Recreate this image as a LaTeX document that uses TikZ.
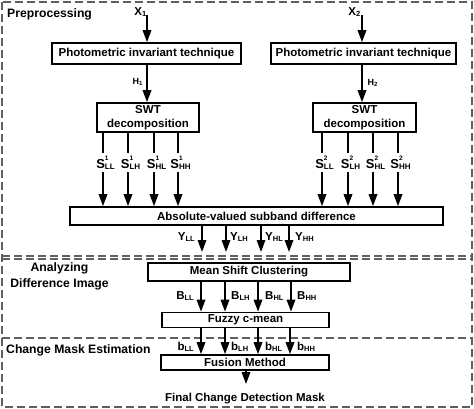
\documentclass[tikz,border=0pt]{standalone}
\usepackage{fontspec}
\setmainfont{Liberation Sans}
\usetikzlibrary{arrows.meta}
\definecolor{dashgray}{RGB}{95,95,95}
\newcommand{\ssub}[2]{#1\raisebox{-1.5pt}{\fontsize{7.5}{8}\selectfont #2}}
\newcommand{\ssupsub}[3]{#1\rlap{\raisebox{8pt}{\fontsize{6.5}{7}\selectfont #2}}\raisebox{-1pt}{\fontsize{8}{9}\selectfont #3}}
\begin{document}
\begin{tikzpicture}[x=1pt,y=-1pt,
  box/.style={draw, line width=1.7pt, inner sep=0pt, align=center,
    font=\bfseries\fontsize{11.5}{14.5}\selectfont},
  arr/.style={line width=1.7pt, -{Triangle[length=12pt,width=8.5pt]}},
  sec/.style={draw=dashgray, line width=2pt, dash pattern=on 8pt off 4pt},
  seclab/.style={inner sep=0pt, align=center, font=\bfseries\fontsize{12.2}{16}\selectfont},
  lab/.style={inner sep=0pt, font=\bfseries\fontsize{11.5}{13}\selectfont},
  hlab/.style={inner sep=0pt, font=\bfseries\fontsize{9}{10}\selectfont},
  slab/.style={fill=white, inner sep=0pt, minimum height=19pt, minimum width=16pt,
    font=\bfseries\fontsize{13}{15}\selectfont}
]
\useasboundingbox (0,0) rectangle (474,408);

% section frames
\draw[sec] (2,2) rectangle (472,406.5);
\draw[sec] (2,255.5) -- (472,255.5);
\draw[sec] (2,259) -- (472,259);
\draw[sec] (2,338) -- (472,338);

% section labels
\node[seclab, anchor=west] (pre) at (7,14) {Preprocessing};
\node[seclab] (ana) at (59.5,276) {Analyzing\\Difference Image};
\node[seclab, anchor=west] (cme) at (6,350) {Change Mask Estimation};

% boxes
\node[box, minimum width=189pt, minimum height=21pt] (box1) at (146.5,53.5) {Photometric invariant technique};
\node[box, minimum width=185pt, minimum height=21pt] (box2) at (363.5,53.5) {Photometric invariant technique};
\node[box, minimum width=102pt, minimum height=29pt] (swt1) at (148,117.5) {SWT\\decomposition};
\node[box, minimum width=103pt, minimum height=29pt] (swt2) at (364.5,117.5) {SWT\\decomposition};
\node[box, minimum width=373pt, minimum height=18pt] (abs) at (256.5,216) {Absolute-valued subband difference};
\node[box, minimum width=202pt, minimum height=18pt] (mean) at (249,272) {Mean Shift Clustering};
\node[box, minimum width=167pt, minimum height=15pt] (fuzzy) at (245.5,320) {Fuzzy c-mean};
\node[box, minimum width=168pt, minimum height=15pt] (fusion) at (245,362.5) {Fusion Method};
\node[lab] (final) at (245,399) {Final Change Detection Mask};

% inputs
\coordinate (xa) at (147,15);
\coordinate (xb) at (362,15);
\node[lab, anchor=base east] (x1) at (146.5,15) {\ssub{X}{1}};
\node[lab, anchor=base east] (x2) at (360.5,15) {\ssub{X}{2}};
\draw[arr] (xa) -- (box1.north -| xa);
\draw[arr] (xb) -- (box2.north -| xb);
\draw[arr] (box1.south -| xa) -- (swt1.north -| xa);
\draw[arr] (box2.south -| xb) -- (swt2.north -| xb);
\node[hlab] (h1) at (137.5,82) {\ssub{H}{\fontsize{6}{7}\selectfont 1}};
\node[hlab] (h2) at (372.5,83) {\ssub{H}{\fontsize{6}{7}\selectfont 2}};

% SWT outputs
\foreach \n/\x/\s/\sub in {a/103/1/LL, b/128/1/LH, c/154/1/HL, d/178/1/HH}{
  \coordinate (c\n) at (\x,0);
  \draw[arr] (swt1.south -| c\n) -- (abs.north -| c\n);
  \node[slab] (s\n) at (\x+2.5,162.5) {\ssupsub{S}{\s}{\sub}};
}
\foreach \n/\x/\s/\sub in {e/322/2/LL, f/348/2/LH, g/373/2/HL, h/398/2/HH}{
  \coordinate (c\n) at (\x,0);
  \draw[arr] (swt2.south -| c\n) -- (abs.north -| c\n);
  \node[slab] (s\n) at (\x+2.5,162.5) {\ssupsub{S}{\s}{\sub}};
}

% Y arrows
\foreach \n/\x in {1/202, 2/226, 3/261, 4/289}{
  \coordinate (y\n) at (\x,252);
  \draw[arr] (abs.south -| y\n) -- (y\n);
}
\node[lab, anchor=east] (ly1) at (195,237) {\ssub{Y}{LL}};
\node[lab, anchor=west] (ly2) at (230,237) {\ssub{Y}{LH}};
\node[lab, anchor=west] (ly3) at (265,237) {\ssub{Y}{HL}};
\node[lab, anchor=west] (ly4) at (295,237) {\ssub{Y}{HH}};

% B arrows
\foreach \n/\x in {1/201, 2/225, 3/258, 4/291}{
  \coordinate (bb\n) at (\x,0);
  \draw[arr] (mean.south -| bb\n) -- (fuzzy.north -| bb\n);
}
\node[lab, anchor=east] (lb1) at (194,296) {\ssub{B}{LL}};
\node[lab, anchor=west] (lb2) at (231,296) {\ssub{B}{LH}};
\node[lab, anchor=west] (lb3) at (265,296) {\ssub{B}{HL}};
\node[lab, anchor=west] (lb4) at (297,296) {\ssub{B}{HH}};

% b arrows
\foreach \n/\x in {1/201, 2/225, 3/258, 4/290}{
  \coordinate (sb\n) at (\x,0);
  \draw[arr] (fuzzy.south -| sb\n) -- (fusion.north -| sb\n);
}
\node[lab, anchor=east] (lc1) at (194,347) {\ssub{b}{LL}};
\node[lab, anchor=west] (lc2) at (231,347) {\ssub{b}{LH}};
\node[lab, anchor=west] (lc3) at (265,347) {\ssub{b}{HL}};
\node[lab, anchor=west] (lc4) at (297,347) {\ssub{b}{HH}};

% final arrow
\coordinate (ft) at (246,384);
\draw[arr] (fusion.south -| ft) -- (ft);
\end{tikzpicture}
\end{document}
